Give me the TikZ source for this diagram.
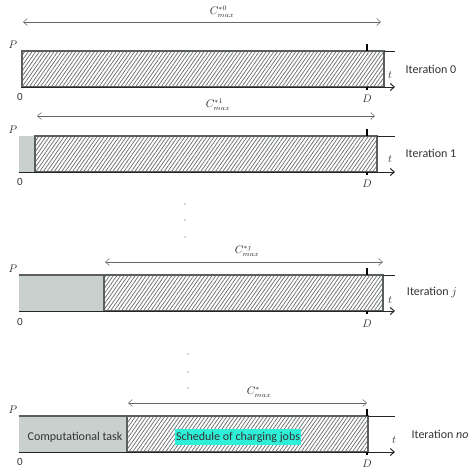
\documentclass[tikz,border=0pt]{standalone}
\usepackage{fontspec}
\setmainfont{Carlito}
\usetikzlibrary{patterns.meta,arrows.meta}
\definecolor{barline}{HTML}{5A5F5D}
\definecolor{grayfill}{HTML}{C9D1CE}
\definecolor{hatchcol}{HTML}{6C716F}
\definecolor{hilite}{HTML}{2EF0D8}
\tikzset{
  hatchbox/.style={draw=barline, line width=1.2pt, fill=white,
    pattern={Lines[angle=55, distance=3pt, line width=0.75pt]}, pattern color=hatchcol},
  graybox/.style={fill=grayfill, draw=none},
  spanarrow/.style={draw=gray!80!black, line width=0.5pt, {Straight Barb[length=4pt,width=7pt]}-{Straight Barb[length=4pt,width=7pt]}},
  axisarrow/.style={draw=black!85, line width=1pt, -{Straight Barb[length=4pt,width=7pt]}},
  topline/.style={draw=black!85, line width=1pt},
  tick/.style={draw=black, line width=1.6pt},
  lbl/.style={font=\fontsize{11}{13}\selectfont, text=black!80, inner sep=0pt},
  tlbl/.style={font=\fontsize{12}{14}\selectfont, text=black!80, inner sep=0pt},
  mlbl/.style={font=\fontsize{10.5}{12}\selectfont, text=black!85, inner sep=0pt},
  iter/.style={font=\fontsize{12}{15}\selectfont, text=black!80, inner sep=0pt},
  dotnode/.style={circle, fill=black!70, inner sep=0pt, minimum size=1.4pt},
}
\begin{document}
\begin{tikzpicture}[x=1pt,y=-1pt]
\useasboundingbox (0,0) rectangle (474,474);
\fill[white] (0,0) rectangle (474,474);

% ---------- Iteration 0
\path[hatchbox] (22,51) rectangle (384,87);
\coordinate (t0a) at (384,51); \coordinate (t0b) at (395,51);
\draw[topline] (t0a) -- (t0b);
\coordinate (b0a) at (21,87); \coordinate (b0b) at (395,87);
\draw[axisarrow] (b0a) -- (b0b);
\draw[tick] (367,44) -- (367,51);
\draw[tick] (367,87) -- (367,90);
\coordinate (s0a) at (23,22); \coordinate (s0b) at (381,22);
\draw[spanarrow] (s0a) -- (s0b);
\node[mlbl] (c0) at (222,12) {$C^{*0}_{max}$};
\node[lbl] (p0) at (13,45) {$P$};
\node[lbl] (z0) at (20,97) {0};
\node[lbl] (d0) at (367,99) {$D$};
\node[lbl] (tt0) at (390,75) {$t$};
\node[iter] (i0) at (431,69) {Iteration 0};

% ---------- Iteration 1
\path[graybox] (19,136) rectangle (35,172);
\path[hatchbox] (35,136) rectangle (377,172);
\coordinate (t1a) at (377,136); \coordinate (t1b) at (395,136);
\draw[topline] (t1a) -- (t1b);
\coordinate (b1a) at (19,172); \coordinate (b1b) at (395,172);
\draw[axisarrow] (b1a) -- (b1b);
\draw[tick] (367,129) -- (367,136);
\draw[tick] (367,172) -- (367,175);
\coordinate (s1a) at (37,116); \coordinate (s1b) at (375,116);
\draw[spanarrow] (s1a) -- (s1b);
\node[mlbl] (c1) at (218,105) {$C^{*1}_{max}$};
\node[lbl] (p1) at (13,130) {$P$};
\node[lbl] (z1) at (20,182) {0};
\node[lbl] (d1) at (367,184) {$D$};
\node[lbl] (tt1) at (390,159) {$t$};
\node[iter] (i1) at (431,153) {Iteration 1};

% dots
\node[dotnode] (da1) at (185,204) {};
\node[dotnode] (da2) at (185,220) {};
\node[dotnode] (da3) at (185,237) {};

% ---------- Iteration j
\path[graybox] (19,275) rectangle (104,311);
\path[hatchbox] (104,275) rectangle (383,311);
\coordinate (tja) at (19,275); \coordinate (tjc) at (104,275);
\draw[draw=barline, line width=1.2pt] (tja) -- (tjc);
\coordinate (tjb) at (395,275); \coordinate (tjd) at (383,275);
\draw[topline] (tjd) -- (tjb);
\coordinate (bja) at (19,311); \coordinate (bjb) at (395,311);
\draw[axisarrow] (bja) -- (bjb);
\draw[tick] (367,268) -- (367,275);
\draw[tick] (367,311) -- (367,314);
\coordinate (sja) at (105,262); \coordinate (sjb) at (383,262);
\draw[spanarrow] (sja) -- (sjb);
\node[mlbl] (cj) at (247,251) {$C^{*j}_{max}$};
\node[lbl] (pj) at (13,269) {$P$};
\node[lbl] (zj) at (20,322) {0};
\node[lbl] (dj) at (367,324) {$D$};
\node[lbl] (ttj) at (390,300) {$t$};
\node[iter] (ij) at (432,293) {Iteration $j$};

% dots
\node[dotnode] (db1) at (188,354) {};
\node[dotnode] (db2) at (188,372) {};
\node[dotnode] (db3) at (188,388) {};

% ---------- Iteration no
\path[graybox] (19,416) rectangle (127,452);
\path[hatchbox] (127,416) rectangle (368,452);
\coordinate (tna) at (19,416); \coordinate (tnc) at (127,416);
\draw[draw=barline, line width=1.2pt] (tna) -- (tnc);
\coordinate (tnd) at (368,416); \coordinate (tnb) at (395,416);
\draw[topline] (tnd) -- (tnb);
\coordinate (bna) at (19,452); \coordinate (bnb) at (395,452);
\draw[axisarrow] (bna) -- (bnb);
\draw[tick] (367,409) -- (367,416);
\draw[tick] (367,452) -- (367,455);
\coordinate (sna) at (128,403); \coordinate (snb) at (367,403);
\draw[spanarrow] (sna) -- (snb);
\node[mlbl] (cn) at (259,392) {$C^{*}_{max}$};
\node[lbl] (pn) at (13,410) {$P$};
\node[lbl] (zn) at (20,462) {0};
\node[lbl] (dn) at (367,464) {$D$};
\node[lbl] (ttn) at (394,440) {$t$};
\node[iter] (in) at (440,434) {Iteration \textit{no}};
\node[tlbl] (comp) at (75,437) {Computational task};
\node[tlbl, fill=hilite, inner xsep=1pt, inner ysep=2.5pt] (sched) at (238,437) {Schedule of charging jobs};
\end{tikzpicture}
\end{document}
